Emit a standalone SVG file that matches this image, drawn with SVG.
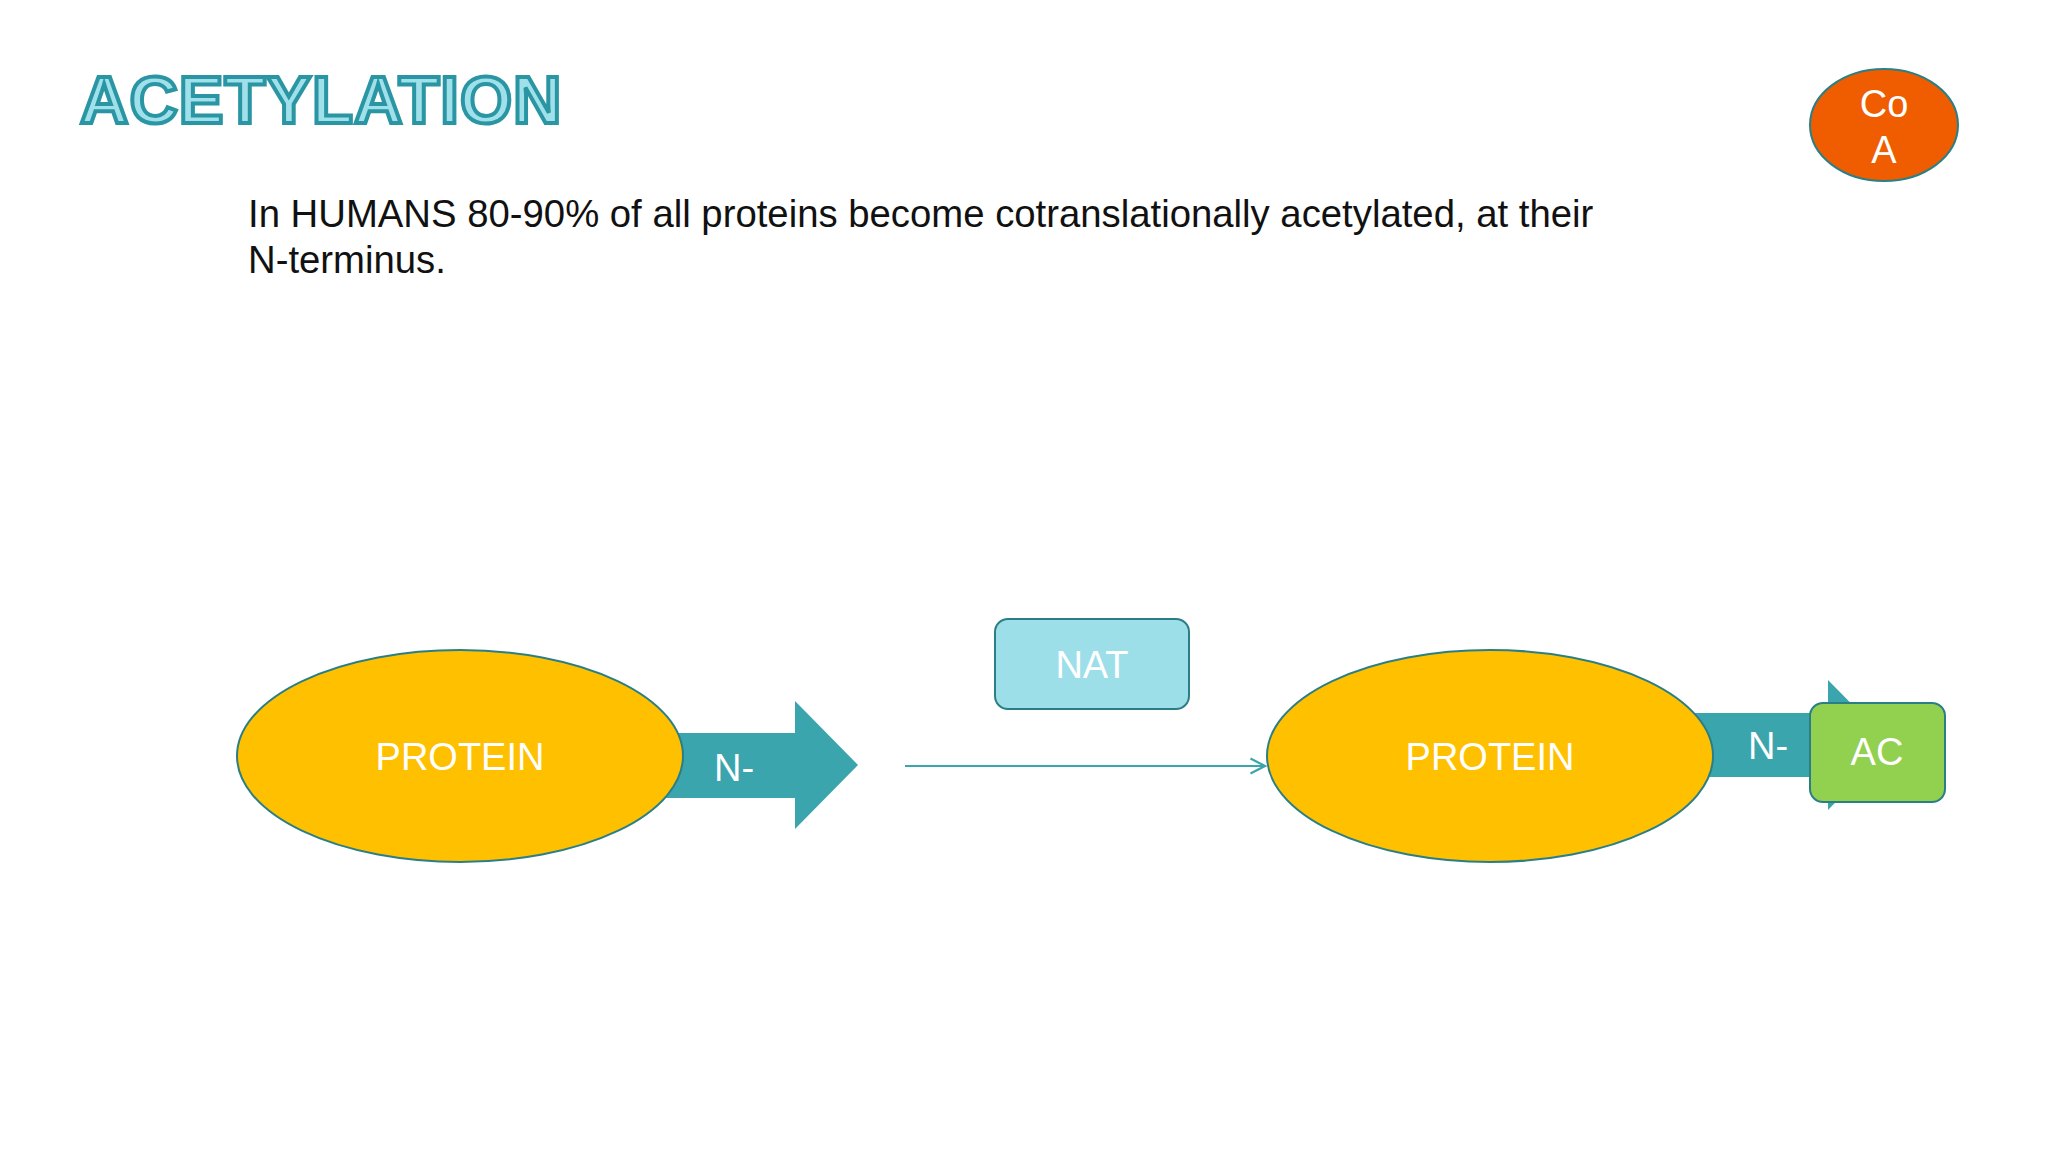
<svg xmlns="http://www.w3.org/2000/svg" width="2048" height="1152" viewBox="0 0 2048 1152">
<defs>
<style>
.lbl{font-family:"Liberation Sans",Arial,sans-serif;font-size:38px;fill:#ffffff;text-anchor:middle;dominant-baseline:central}
.body{font-family:"Liberation Sans",Arial,sans-serif;font-size:38.3px;fill:#111111}
.ell{fill:#ffc000;stroke:#2a7f86;stroke-width:2}
.arrowshape{fill:#3ba5ad;stroke:none}
</style>
<marker id="open" viewBox="0 0 18 18" refX="16" refY="9" markerWidth="18" markerHeight="18" markerUnits="userSpaceOnUse" orient="auto">
<path d="M1.5,1.5 L16,9 L1.5,16.5" fill="none" stroke="#3ba5ad" stroke-width="2.2"/>
</marker>
</defs>
<rect width="2048" height="1152" fill="#ffffff"/>
<text x="80" y="123" font-family="Liberation Sans,Arial,sans-serif" font-weight="bold" font-size="67" letter-spacing="1" fill="#9fe0ea" stroke="#2a96a4" stroke-width="4">ACETYLATION</text>
<g id="intro">
<text class="body" x="248" y="227">In HUMANS 80-90% of all proteins become cotranslationally acetylated, at their</text>
<text class="body" x="248" y="273">N-terminus.</text>
</g>
<g id="coa">
<ellipse cx="1884" cy="125" rx="74" ry="56" fill="#ef5d00" stroke="#2a7f86" stroke-width="2"/>
<text class="lbl" x="1884" y="104">Co</text>
<text class="lbl" x="1884" y="150">A</text>
</g>
<g id="connectors">
<line x1="905" y1="766" x2="1265" y2="766" stroke="#3ba5ad" stroke-width="2.2" marker-end="url(#open)"/>
</g>
<g id="protein1">
<path class="arrowshape" d="M650,733 L795,733 L795,701 L858,765 L795,829 L795,798 L650,798 Z"/>
<ellipse class="ell" cx="460" cy="756" rx="223" ry="106"/>
<text class="lbl" x="460" y="757">PROTEIN</text>
<text class="lbl" x="734" y="768">N-</text>
</g>
<g id="nat">
<rect x="995" y="619" width="194" height="90" rx="13" fill="#9ddfe9" stroke="#2a7f86" stroke-width="2"/>
<text class="lbl" x="1092" y="665">NAT</text>
</g>
<g id="protein2">
<path class="arrowshape" d="M1680,713 L1828,713 L1828,680 L1892,745 L1828,810 L1828,777 L1680,777 Z"/>
<ellipse class="ell" cx="1490" cy="756" rx="223" ry="106"/>
<text class="lbl" x="1490" y="757">PROTEIN</text>
<text class="lbl" x="1768" y="746">N-</text>
</g>
<g id="ac">
<rect x="1810" y="703" width="135" height="99" rx="13" fill="#92d050" stroke="#2a7f86" stroke-width="2"/>
<text class="lbl" x="1877" y="752">AC</text>
</g>
</svg>
